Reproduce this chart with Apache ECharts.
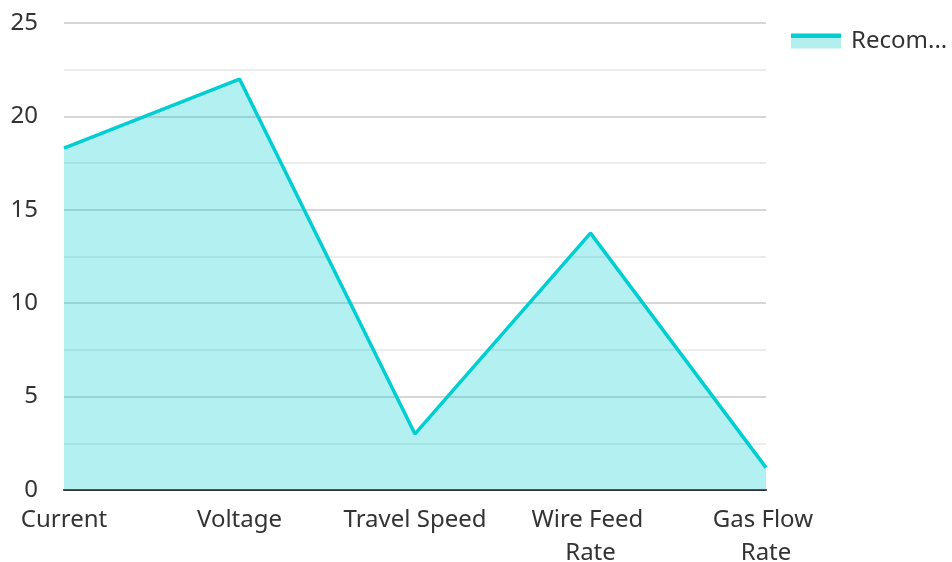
<!DOCTYPE html>
<html>
<head>
<meta charset="utf-8">
<script src="https://cdn.jsdelivr.net/npm/echarts@6/dist/echarts.min.js"></script>
<style>
  html, body { margin: 0; padding: 0; background: #fff; }
  #main { width: 952px; height: 562px; }
</style>
</head>
<body>
<div id="main"></div>
<script>
// data
var categories = ['Current', 'Voltage', 'Travel Speed', 'Wire Feed Rate', 'Gas Flow Rate'];
var recommended = [18.3, 22, 3, 13.75, 1.2];
var seriesName = 'Recommended Settings';

var myChart = echarts.init(document.getElementById('main'));

var option = {
    textStyle: { fontFamily: 'Noto Sans' },
    grid: { left: 64, right: 186, top: 23, bottom: 72, containLabel: false, outerBoundsMode: 'none' },
    legend: {
        left: 786,
        top: 24,
        icon: 'rect',
        itemWidth: 50,
        itemHeight: 15,
        itemGap: 10,
        itemStyle: {
            // line on top, filled area below, like the reference key
            color: new echarts.graphic.LinearGradient(0, 0, 0, 1, [
                { offset: 0, color: '#00CED1' },
                { offset: 0.27, color: '#00CED1' },
                { offset: 0.27, color: '#b2efee' },
                { offset: 1, color: '#b2efee' }
            ])
        },
        textStyle: {
            fontSize: 24,
            color: '#333',
            width: 112,
            overflow: 'truncate',
            padding: [0, 0, 0, 5]
        },
        data: [seriesName]
    },
    xAxis: {
        type: 'category',
        boundaryGap: false,
        data: categories,
        axisLine: { lineStyle: { color: '#333', width: 2 } },
        axisTick: { show: false },
        axisLabel: {
            interval: 0,
            fontSize: 24,
            color: '#333',
            margin: 14,
            width: 150,
            overflow: 'break',
            lineHeight: 33
        }
    },
    yAxis: {
        type: 'value',
        min: 0,
        max: 25,
        interval: 5,
        axisLine: { show: false },
        axisTick: { show: false },
        axisLabel: { fontSize: 24, color: '#333', margin: 26 },
        splitLine: { lineStyle: { color: '#c8c8c8', width: 1.5 } },
        minorTick: { show: false, splitNumber: 2 },
        minorSplitLine: { show: true, lineStyle: { color: '#e6e6e6', width: 1.5 } }
    },
    series: [
        {
            name: seriesName,
            type: 'line',
            data: recommended,
            showSymbol: false,
            symbol: 'none',
            lineStyle: { color: '#00CED1', width: 3.5 },
            itemStyle: { color: '#00CED1' },
            areaStyle: { color: 'rgba(0, 206, 209, 0.3)', opacity: 1 }
        }
    ]
};

myChart.setOption(option);
</script>
</body>
</html>
